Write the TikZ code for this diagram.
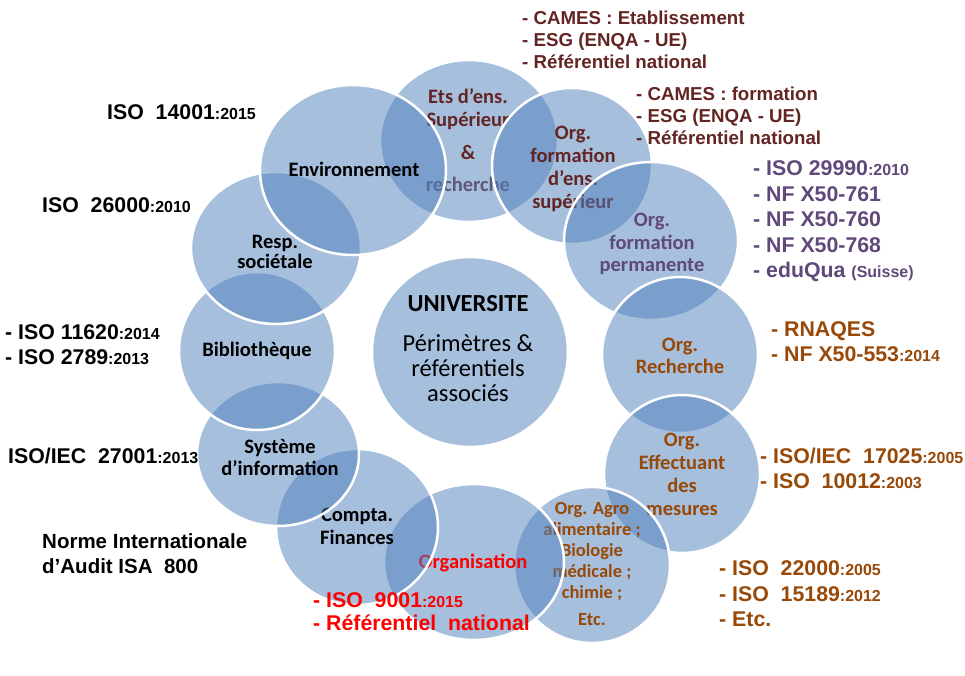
\documentclass[tikz,border=0pt]{standalone}
\usepackage{fontspec}
\setmainfont{Carlito}
\newfontfamily\lib{Liberation Sans}
\usetikzlibrary{shapes.geometric}
\definecolor{acc}{HTML}{4F81BD}
\definecolor{mar}{HTML}{632523}
\definecolor{pur}{HTML}{5F497A}
\definecolor{brn}{HTML}{984807}
\definecolor{rch}{HTML}{5E5878}
\definecolor{rd}{HTML}{FF0000}
\newcommand\yr[1]{{\fontsize{16}{16}\selectfont #1}}
\newcommand\stk[6]{\foreach \xline [count=\i] in {#6}{\node[#2] (#1\i) at ({#3},{#4+(\i-1)*(#5)}) {\xline};}}
\tikzset{
  bub/.style={ellipse, inner sep=0pt, fill=acc, fill opacity=0.5, draw=white, draw opacity=1, line width=2.5pt},
  ct/.style={font=\fontsize{20.5}{22}\selectfont\bfseries, inner sep=0pt, anchor=mid, yshift=-4.5pt},
  lst/.style={font=\lib\bfseries\fontsize{21.3}{25}\selectfont, inner sep=0pt, anchor=mid west, yshift=-5.5pt},
  sml/.style={lst, font=\lib\bfseries\fontsize{18.7}{22}\selectfont},
}
\begin{document}
\begin{tikzpicture}[x=1pt, y=-1pt]
\fill[white] (0,0) rectangle (965,675);
\useasboundingbox (0,0) rectangle (965,675);

% centre
\node[bub, minimum width=196pt, minimum height=190pt] (univ) at (470,352) {};
\node[ct, font=\fontsize{24.5}{26}\selectfont\bfseries] (uhead) at (468,305) {UNIVERSITE};
\stk{u}{ct, font=\fontsize{24.5}{26}\selectfont}{468}{345}{25}{Périmètres \&,référentiels,associés}

% ring, in drawing order
\node[bub, minimum width=178pt, minimum height=162pt] (ets) at (469,141) {};
\node[ct, mar] (ets1) at (468,97) {Ets d’ens.};
\node[ct, mar] (ets2) at (468,120) {Supérieur};
\node[ct, mar] (ets3) at (468,153) {\&};
\node[ct, rch] (ets4) at (468,185) {recherche};

\node[bub, minimum width=160pt, minimum height=156pt] (ofes) at (572,166) {};
\stk{ofes}{ct, mar}{573}{133}{23}{Org.,formation,d’ens.,supérieur}

\node[bub, minimum width=174pt, minimum height=158pt] (ofp) at (651,241) {};
\stk{ofp}{ct, pur}{652}{220}{22.5}{Org.,formation,permanente}

\node[bub, minimum width=156pt, minimum height=156pt] (orech) at (680,355) {};
\stk{orech}{ct, brn}{680}{345}{22}{Org.,Recherche}

\node[bub, minimum width=156pt, minimum height=158pt] (oeff) at (682,474) {};
\stk{oeff}{ct, brn}{682}{440}{23}{Org.,Effectuant,des,mesures}

\node[bub, minimum width=156pt, minimum height=156pt] (agro) at (592,565) {};
\stk{agro}{ct, brn, font=\fontsize{18.5}{20}\selectfont\bfseries}{592}{508}{20.8}{Org. Agro,alimentaire ;,Biologie,médicale ;,chimie ;}
\node[ct, brn, font=\fontsize{18.5}{20}\selectfont\bfseries] (agro6) at (592,619) {Etc.};

\node[bub, minimum width=180pt, minimum height=156pt] (orga) at (474,562) {};
\node[ct, rd] (orga1) at (473,562) {Organisation};

\node[bub, minimum width=162pt, minimum height=156pt] (compta) at (357,527) {};
\stk{compta}{ct}{357}{515}{23}{Compta.,Finances}

\node[bub, minimum width=162pt, minimum height=144pt] (si) at (278,454) {};
\stk{si}{ct}{280}{447}{22}{Système,d’information}

\node[bub, minimum width=156pt, minimum height=158pt] (biblio) at (257,351) {};
\node[ct] (biblio1) at (257,350) {Bibliothèque};

\node[bub, minimum width=170pt, minimum height=152pt] (resp) at (276,248) {};
\stk{resp}{ct}{275}{242}{20}{Resp.,sociétale}

\node[bub, minimum width=186pt, minimum height=170pt] (env) at (353,170) {};
\node[ct] (env1) at (354,170) {Environnement};

% referentials
\stk{lA}{sml, mar}{522}{17}{22}{- CAMES : Etablissement,- ESG (ENQA - UE),- Référentiel national}
\stk{lB}{sml, mar}{636}{93}{22}{- CAMES : formation,- ESG (ENQA - UE),- Référentiel national}
\stk{lC}{lst, pur}{753}{168}{25.4}{- ISO 29990\yr{:2010},- NF X50-761,- NF X50-760,- NF X50-768,- eduQua \yr{(Suisse)}}
\stk{lD}{lst, brn}{771}{329}{25}{- RNAQES,- NF X50-553\yr{:2014}}
\stk{lE}{lst, brn}{760}{456}{25}{- ISO/IEC~ 17025\yr{:2005},- ISO~ 10012\yr{:2003}}
\stk{lF}{lst, brn}{719}{568}{25.5}{- ISO~ 22000\yr{:2005},- ISO~ 15189\yr{:2012},- Etc.}
\stk{lG}{lst, rd}{313}{600}{23}{- ISO~ 9001\yr{:2015},- Référentiel~ national}
\node[lst] (lH) at (107,112) {ISO~ 14001\yr{:2015}};
\node[lst] (lI) at (42,205) {ISO~ 26000\yr{:2010}};
\stk{lJ}{lst}{5}{332}{25}{- ISO 11620\yr{:2014},- ISO 2789\yr{:2013}}
\node[lst] (lK) at (8,456) {ISO/IEC~ 27001\yr{:2013}};
\stk{lL}{lst, font=\lib\bfseries\fontsize{20.5}{25}\selectfont}{42}{541}{25}{Norme Internationale,d’Audit ISA~ 800}
\end{tikzpicture}
\end{document}
